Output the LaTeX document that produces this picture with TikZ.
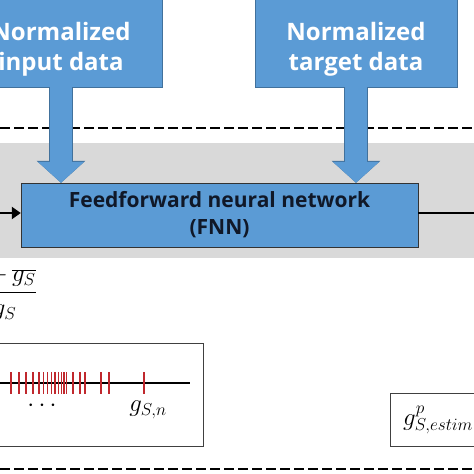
\documentclass[tikz,border=0pt]{standalone}
\usepackage{fontspec}
\newfontfamily\boxfont{Open Sans}
\usetikzlibrary{arrows.meta}

\definecolor{fillblue}{HTML}{5B9BD5}
\definecolor{edgeblue}{HTML}{41719C}
\definecolor{bandgray}{HTML}{D9D9D9}
\definecolor{tickred}{HTML}{C0282D}
\definecolor{navy}{HTML}{101828}

\begin{document}
\begin{tikzpicture}[x=1pt,y=-1pt,
    databox/.style={draw=edgeblue,fill=fillblue,minimum width=202pt,minimum height=120pt},
    datatext/.style={text=white,align=center,inner sep=0pt,
        font=\boxfont\bfseries\fontsize{24}{30}\selectfont},
    netbox/.style={draw=black!80,fill=fillblue,text=navy,align=center,
        font=\boxfont\bfseries\fontsize{21}{27}\selectfont,
        minimum width=397pt,minimum height=64pt},
    blockarrow/.style={line width=22pt,draw=fillblue,-{Triangle[length=21pt,width=45pt]},
        preaction={draw=edgeblue,line width=23.5pt,-{Triangle[length=22pt,width=47.5pt]}}},
    flow/.style={line width=2.8pt,black},
    sepline/.style={line width=2.6pt,dash pattern=on 10pt off 4pt},
    mathtext/.style={font=\fontsize{26}{30}\selectfont,inner sep=0pt},
    tick/.style={tickred,line width=1.8pt}
]
    \clip (0,0) rectangle (474,474);
    \fill[white] (0,0) rectangle (474,474);

    % band and separators
    \fill[bandgray] (0,143) rectangle (474,258);
    \draw[sepline] (0,128) -- (474,128);
    \draw[sepline] (0,469) -- (474,469);

    % data boxes
    \node[databox,anchor=south] (inbox) at (61,87) {};
    \node[datatext,anchor=south] (intext) at ([yshift=11pt]inbox.south) {Normalized\\input data};
    \node[databox,anchor=south] (tgtbox) at (356,87) {};
    \node[datatext,anchor=south] (tgttext) at ([yshift=11pt]tgtbox.south) {Normalized\\target data};

    % network
    \node[netbox] (fnn) at (219.5,215) {Feedforward neural network\\(FNN)};

    \draw[blockarrow] (inbox.south) -- (inbox.south |- fnn.north);
    \draw[blockarrow] (tgtbox.south) -- (tgtbox.south |- fnn.north);

    \coordinate (inleft) at (-5,213);
    \coordinate (outright) at (480,213);
    \draw[flow,-{Triangle[length=9pt,width=12pt]}] (inleft) -- (fnn.west |- inleft);
    \draw[flow] (fnn.east |- outright) -- (outright);

    % normalisation
    \node[mathtext,anchor=east] (norm) at (37,294) {$\displaystyle\frac{-\,\overline{g_S}}{g_S\hspace{15pt}}$};

    % samples
    \node[draw=black!75,line width=1.2pt,minimum width=254pt,minimum height=103pt,anchor=north east] (samples) at (204,343) {};
    \coordinate (axisend) at (190,383);
    \draw[line width=2pt] (axisend -| samples.west) -- (axisend);
    \foreach \t in {11,19,26,33,39,43.5,47.5,51.5,55,58.5,61.5,64,66.5,73,80,85,101,109,144}
        \draw[tick] (\t,372) -- (\t,394);
    \node[mathtext] (dots) at (42,406) {$\cdots$};
    \node[mathtext] (last) at (148,410) {$g_{S,n}$};

    % estimate
    \node[draw=black!75,line width=1.2pt,minimum width=120pt,minimum height=53pt,anchor=north west] (estim) at (390,393) {};
    \node[mathtext,anchor=west] (estlbl) at (403,420) {$g^{p}_{S,estim}$};
\end{tikzpicture}
\end{document}
